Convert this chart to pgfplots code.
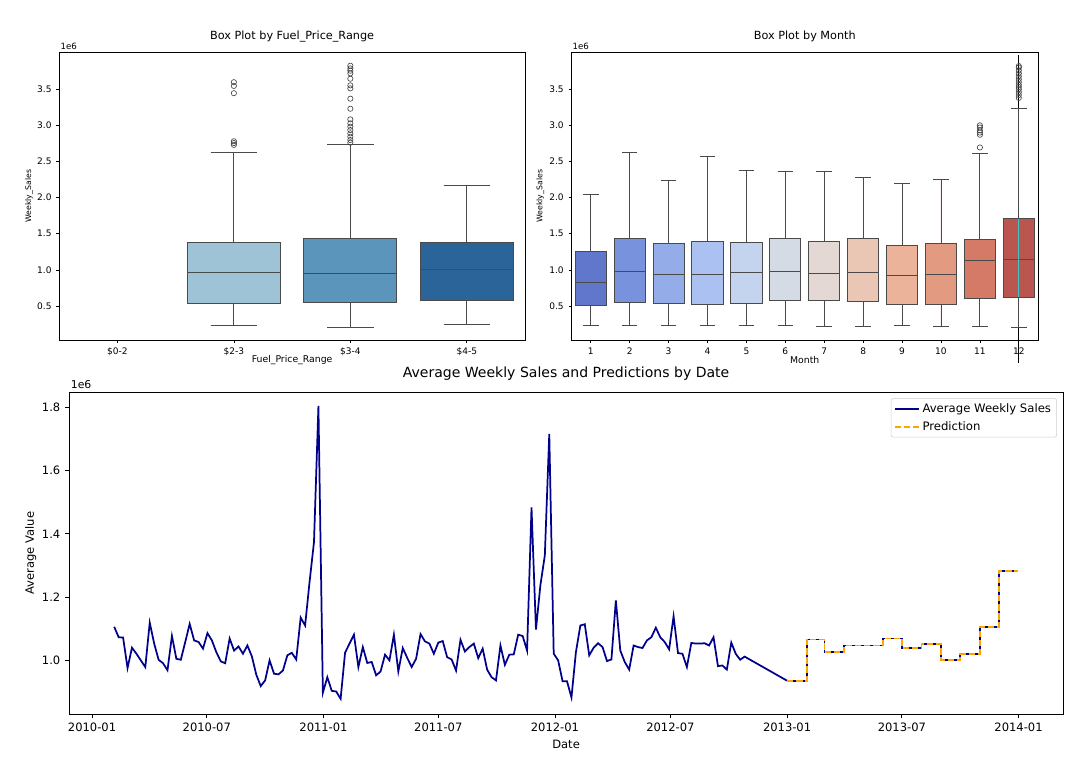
\documentclass[border=0pt]{standalone}
\usepackage{pgfplots}
\pgfplotsset{compat=1.18}
\usepgfplotslibrary{statistics}
\usepackage{fontspec}
\setmainfont{DejaVu Sans}

\definecolor{boxline}{HTML}{4A4A4A}
\definecolor{fA}{HTML}{9EC3D7}
\definecolor{fB}{HTML}{5B95BC}
\definecolor{fC}{HTML}{2B6499}
\definecolor{m1}{HTML}{6177CB}
\definecolor{m2}{HTML}{7892DE}
\definecolor{m3}{HTML}{94ACE8}
\definecolor{m4}{HTML}{ABC1F1}
\definecolor{m5}{HTML}{C4D3EE}
\definecolor{m6}{HTML}{D4DBE5}
\definecolor{m7}{HTML}{E3D8D3}
\definecolor{m8}{HTML}{EAC7B5}
\definecolor{m9}{HTML}{EBB39A}
\definecolor{m10}{HTML}{E29A80}
\definecolor{m11}{HTML}{D47A66}
\definecolor{m12}{HTML}{BB554F}
\definecolor{navyline}{HTML}{00008B}
\definecolor{predorange}{HTML}{FFA500}
\definecolor{cyanline}{HTML}{40C4C4}

\pgfplotstableread{
day val
35 1.107
42 1.074
49 1.073
56 0.977
63 1.041
70 1.022
77 1.001
84 0.980
91 1.120
98 1.054
105 1.003
112 0.992
119 0.970
126 1.078
133 1.006
140 1.003
147 1.059
154 1.116
161 1.064
168 1.059
175 1.038
182 1.087
189 1.064
196 1.027
203 0.998
210 0.992
217 1.070
224 1.032
231 1.045
238 1.022
245 1.048
252 1.014
259 0.956
266 0.920
273 0.938
280 1.001
287 0.959
294 0.957
301 0.969
308 1.017
315 1.025
322 1.004
329 1.136
336 1.111
343 1.248
350 1.374
357 1.803
364 0.899
371 0.948
378 0.905
385 0.903
392 0.880
399 1.025
406 1.054
413 1.082
420 0.980
427 1.043
434 0.993
441 0.996
448 0.954
455 0.966
462 1.019
469 1.001
476 1.082
483 0.966
490 1.040
497 1.009
504 0.980
511 1.006
518 1.084
525 1.061
532 1.054
539 1.022
546 1.057
553 1.062
560 1.011
567 1.004
574 0.969
581 1.066
588 1.029
595 1.043
602 1.054
609 1.008
616 1.038
623 0.972
630 0.948
637 0.938
644 1.048
651 0.987
658 1.019
665 1.020
672 1.082
679 1.078
686 1.032
693 1.483
700 1.098
707 1.238
714 1.332
721 1.715
728 1.022
735 1.001
742 0.935
749 0.935
756 0.884
763 1.027
770 1.111
777 1.115
784 1.017
791 1.041
798 1.055
805 1.043
812 0.999
819 1.004
826 1.190
833 1.032
840 0.996
847 0.972
854 1.048
861 1.043
868 1.040
875 1.064
882 1.074
889 1.104
896 1.074
903 1.059
910 1.036
917 1.140
924 1.024
931 1.022
938 0.980
945 1.056
952 1.054
959 1.054
966 1.055
973 1.048
980 1.074
987 0.983
994 0.985
1001 0.972
1008 1.057
1015 1.022
1022 1.003
1029 1.013
1096 0.937
}\salesdata

\pgfplotstableread{
day val
1096 0.937
1127 1.067
1155 1.027
1186 1.048
1216 1.048
1247 1.070
1277 1.041
1308 1.052
1339 1.002
1369 1.022
1400 1.107
1430 1.283
1460 1.283
}\preddata

\pgfplotsset{
  boxax/.style={
    scale only axis, width=335.4pt, height=207.1pt, anchor=south west,
    ymin=0.03, ymax=4.01,
    ytick={0.5,1,1.5,2,2.5,3,3.5},
    yticklabels={0.5,1.0,1.5,2.0,2.5,3.0,3.5},
    tick align=outside, tick pos=left, major tick length=2pt,
    tick style={black, line width=0.5pt},
    axis line style={black, line width=0.6pt},
    tick label style={font=\fontsize{6.5}{7.5}\selectfont},
    xlabel style={font=\fontsize{6.7}{8}\selectfont, at={(axis description cs:0.5,-0.0713)}, anchor=center},
    ylabel style={font=\fontsize{5.6}{6.5}\selectfont, anchor=center},
    title style={font=\fontsize{8.1}{9.7}\selectfont, at={(axis description cs:0.5,1)}, anchor=base, yshift=2.95pt},
    /pgf/number format/assume math mode=true,
    boxplot/draw direction=y,
  },
  bx/.style={draw=boxline, line width=0.7pt, solid, mark=o, mark size=1.9pt,
    mark options={draw=black!75, fill=none, line width=0.45pt}},
}

\begin{document}
\begin{tikzpicture}
\useasboundingbox (0,0) rectangle (769.68pt,544.32pt);

% ---------------- top-left ----------------
\begin{axis}[boxax, name=ax1, at={(42.62pt,299.52pt)},
  xmin=-0.5, xmax=3.5, xtick={0,1,2,3},
  xticklabels={\$0-2,\$2-3,\$3-4,\$4-5},
  title={Box Plot by Fuel\_Price\_Range},
  xlabel={Fuel\_Price\_Range}, ylabel={Weekly\_Sales},
  ylabel style={at={(axis description cs:-0.0644,0.5)}},
]
\addplot[bx, fill=fA, boxplot prepared={draw position=1, lower whisker=0.226, lower quartile=0.539, median=0.963, upper quartile=1.382, upper whisker=2.627, box extend=0.8, whisker extend=0.4}]
  table[row sep=\\, y index=0] {y\\ 3.597\\ 3.546\\ 3.445\\ 2.780\\ 2.755\\ 2.730\\};
\addplot[bx, fill=fB, boxplot prepared={draw position=2, lower whisker=0.207, lower quartile=0.553, median=0.949, upper quartile=1.429, upper whisker=2.737, box extend=0.8, whisker extend=0.4}]
  table[row sep=\\, y index=0] {y\\ 3.825\\ 3.788\\ 3.756\\ 3.719\\ 3.645\\ 3.553\\ 3.512\\ 3.369\\ 3.230\\ 3.083\\ 3.028\\ 2.982\\ 2.935\\ 2.889\\ 2.843\\ 2.797\\ 2.760\\};
\addplot[bx, fill=fC, boxplot prepared={draw position=3, lower whisker=0.244, lower quartile=0.576, median=1.009, upper quartile=1.382, upper whisker=2.166, box extend=0.8, whisker extend=0.4}]
  coordinates {};
\end{axis}
\node[anchor=base west, font=\fontsize{6.2}{7}\selectfont, inner sep=0pt] at ([xshift=0.8pt, yshift=1.7pt]ax1.north west) {1e6};

% ---------------- top-right ----------------
\begin{axis}[boxax, name=ax2, at={(411.34pt,299.52pt)}, width=336.2pt, clip=false,
  xmin=-0.5, xmax=11.5, xtick={0,...,11},
  xticklabels={1,2,3,4,5,6,7,8,9,10,11,12},
  title={Box Plot by Month},
  xlabel={Month}, ylabel={Weekly\_Sales},
  ylabel style={at={(axis description cs:-0.0664,0.5)}},
]
\addplot[black, line width=0.9pt, forget plot] coordinates {(11,3.97) (11,-0.29)};
\addplot[bx, fill=m1, boxplot prepared={draw position=0, lower whisker=0.226, lower quartile=0.512, median=0.829, upper quartile=1.253, upper whisker=2.046, box extend=0.8, whisker extend=0.4}] coordinates {};
\addplot[bx, fill=m2, boxplot prepared={draw position=1, lower whisker=0.226, lower quartile=0.553, median=0.982, upper quartile=1.429, upper whisker=2.627, box extend=0.8, whisker extend=0.4}] coordinates {};
\addplot[bx, fill=m3, boxplot prepared={draw position=2, lower whisker=0.235, lower quartile=0.539, median=0.940, upper quartile=1.359, upper whisker=2.240, box extend=0.8, whisker extend=0.4}] coordinates {};
\addplot[bx, fill=m4, boxplot prepared={draw position=3, lower whisker=0.226, lower quartile=0.525, median=0.940, upper quartile=1.396, upper whisker=2.571, box extend=0.8, whisker extend=0.4}] coordinates {};
\addplot[bx, fill=m5, boxplot prepared={draw position=4, lower whisker=0.235, lower quartile=0.539, median=0.968, upper quartile=1.382, upper whisker=2.378, box extend=0.8, whisker extend=0.4}] coordinates {};
\addplot[bx, fill=m6, boxplot prepared={draw position=5, lower whisker=0.235, lower quartile=0.581, median=0.982, upper quartile=1.438, upper whisker=2.364, box extend=0.8, whisker extend=0.4}] coordinates {};
\addplot[bx, fill=m7, boxplot prepared={draw position=6, lower whisker=0.221, lower quartile=0.581, median=0.954, upper quartile=1.396, upper whisker=2.359, box extend=0.8, whisker extend=0.4}] coordinates {};
\addplot[bx, fill=m8, boxplot prepared={draw position=7, lower whisker=0.221, lower quartile=0.567, median=0.968, upper quartile=1.438, upper whisker=2.281, box extend=0.8, whisker extend=0.4}] coordinates {};
\addplot[bx, fill=m9, boxplot prepared={draw position=8, lower whisker=0.226, lower quartile=0.525, median=0.917, upper quartile=1.341, upper whisker=2.198, box extend=0.8, whisker extend=0.4}] coordinates {};
\addplot[bx, fill=m10, boxplot prepared={draw position=9, lower whisker=0.212, lower quartile=0.525, median=0.935, upper quartile=1.359, upper whisker=2.249, box extend=0.8, whisker extend=0.4}] coordinates {};
\addplot[bx, fill=m11, boxplot prepared={draw position=10, lower whisker=0.221, lower quartile=0.608, median=1.134, upper quartile=1.424, upper whisker=2.613, box extend=0.8, whisker extend=0.4}]
  table[row sep=\\, y index=0] {y\\ 2.694\\ 2.870\\ 2.900\\ 2.930\\ 2.970\\ 3.000\\};
\addplot[bx, fill=m12, boxplot prepared={draw position=11, lower whisker=0.203, lower quartile=0.618, median=1.147, upper quartile=1.714, upper whisker=3.240, box extend=0.8, whisker extend=0.4}]
  table[row sep=\\, y index=0] {y\\ 3.380\\ 3.420\\ 3.460\\ 3.500\\ 3.530\\ 3.560\\ 3.600\\ 3.640\\ 3.680\\ 3.720\\ 3.760\\ 3.800\\ 3.820\\};
\addplot[cyanline, line width=0.6pt, forget plot] coordinates {(11,0.625) (11,1.707)};
\end{axis}
\node[anchor=base west, font=\fontsize{6.2}{7}\selectfont, inner sep=0pt] at ([xshift=0.8pt, yshift=1.7pt]ax2.north west) {1e6};

% ---------------- bottom ----------------
\begin{axis}[name=ax3, scale only axis, width=715.5pt, height=231.6pt, anchor=south west, at={(49.82pt,30.24pt)},
  xmin=-36, xmax=1531, ymin=0.832, ymax=1.846,
  xtick={0,181,365,546,730,912,1096,1277,1461},
  xticklabels={2010-01,2010-07,2011-01,2011-07,2012-01,2012-07,2013-01,2013-07,2014-01},
  ytick={1.0,1.2,1.4,1.6,1.8}, yticklabels={1.0,1.2,1.4,1.6,1.8},
  tick align=outside, tick pos=left, major tick length=2.9pt,
  tick style={black, line width=0.6pt},
  axis line style={black, line width=0.6pt},
  tick label style={font=\fontsize{8.3}{10}\selectfont},
  /pgf/number format/assume math mode=true,
  xlabel={Date}, ylabel={Average Value},
  xlabel style={font=\fontsize{8.3}{10}\selectfont, at={(axis description cs:0.5,-0.0933)}, anchor=center},
  ylabel style={font=\fontsize{8.3}{10}\selectfont, at={(axis description cs:-0.0388,0.5)}, anchor=center},
  title={Average Weekly Sales and Predictions by Date},
  title style={font=\fontsize{10.1}{12}\selectfont, at={(axis description cs:0.5,1)}, anchor=base, yshift=4.75pt},
  legend cell align=left,
  legend style={font=\fontsize{8.4}{10}\selectfont, at={(axis description cs:1,1)}, anchor=north east,
    xshift=-4.4pt, yshift=-4.3pt, draw=black!20, rounded corners=1.5pt, fill=white,
    inner xsep=2pt, inner ysep=1.5pt, row sep=1pt},
  legend image code/.code={\draw[#1] (0pt,0pt) -- (17.3pt,0pt);},
]
\addplot[navyline, line width=1.25pt] table[x=day, y=val] {\salesdata};
\addlegendentry{Average Weekly Sales}
\addplot[navyline, line width=1.25pt, const plot, forget plot] table[x=day, y=val] {\preddata};
\addplot[predorange, line width=1.25pt, const plot, dash pattern=on 4.6pt off 2pt] table[x=day, y=val] {\preddata};
\addlegendentry{Prediction}
\end{axis}
\node[anchor=base west, font=\fontsize{7.8}{9}\selectfont, inner sep=0pt] at ([xshift=1pt, yshift=2.9pt]ax3.north west) {1e6};
\end{tikzpicture}
\end{document}
